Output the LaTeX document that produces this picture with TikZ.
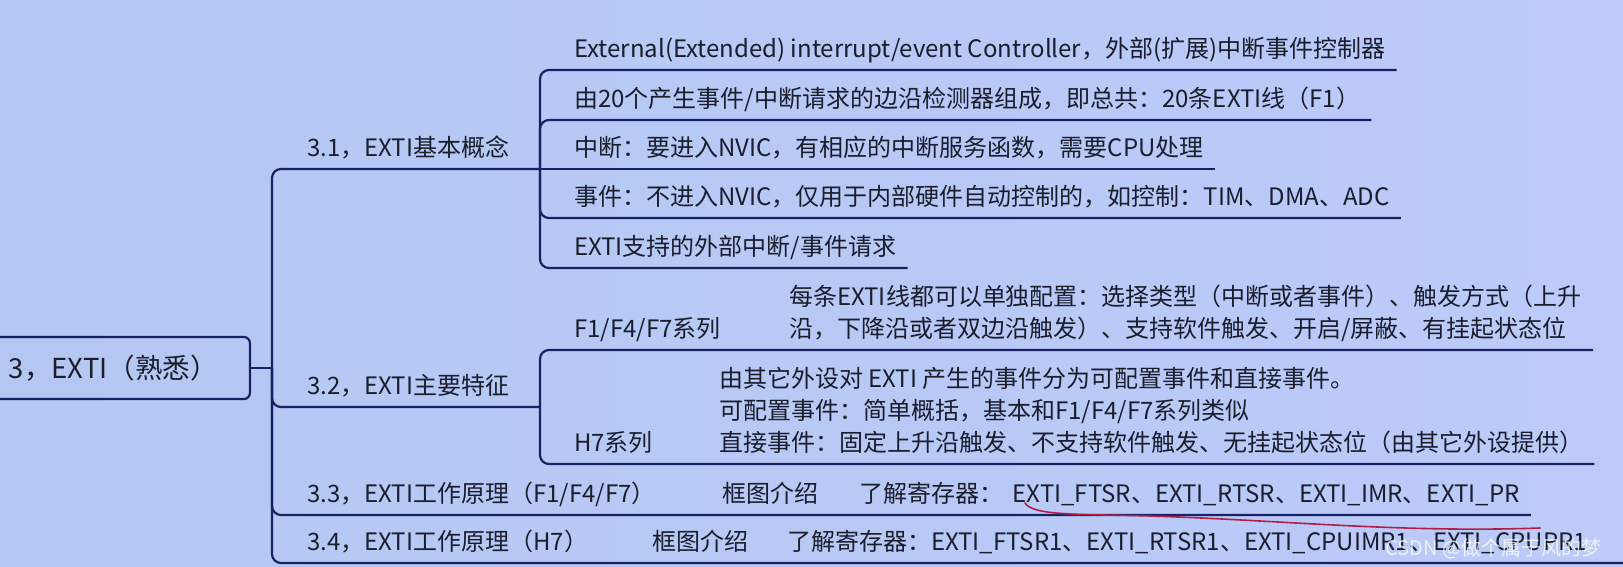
\documentclass[tikz,border=0pt]{standalone}
\usepackage{fontspec}
\setmainfont{Noto Sans CJK SC}
\usetikzlibrary{positioning}
\definecolor{bgleft}{RGB}{180,199,242}
\definecolor{bgmid}{RGB}{212,228,252}
\definecolor{bgright}{RGB}{188,203,250}
\definecolor{branchblue}{RGB}{22,34,100}
\definecolor{textgrey}{RGB}{26,29,44}
\definecolor{penred}{RGB}{176,30,72}
\tikzset{
  branch/.style={draw=branchblue, line width=2.2pt, rounded corners=9pt},
  topic/.style={anchor=south west, inner xsep=11pt, inner ysep=3pt, text=textgrey,
    font=\fontsize{24}{32}\selectfont, align=left, execute at end node=\strut},
  rootbox/.style={draw=branchblue, line width=2.2pt, rounded corners=6pt, anchor=east,
    text width=221pt, inner xsep=20pt, minimum height=62pt, text=textgrey,
    font=\fontsize{27.5}{30}\selectfont},
}
\begin{document}
\begin{tikzpicture}[x=1pt, y=-1pt]
\shade[left color=bgleft, middle color=bgmid, right color=bgright] (0,0) rectangle (1623,567);
\useasboundingbox (0,0) rectangle (1623,567);
% root
\node[rootbox] (root) at (251,368) {3，EXTI（熟悉）};
\coordinate (trunk) at (272,368);
\draw[branch] (root.east) -- (trunk);

% 3.1
\node[topic] (n31) at (296,169) {3.1，EXTI基本概念};
\coordinate (f31) at (540,169);
\draw[branch] (trunk) |- (f31);
\node[topic] (c311) at (563,70) {External(Extended) interrupt/event Controller，外部(扩展)中断事件控制器};
\node[topic] (c312) at (563,120) {由20个产生事件/中断请求的边沿检测器组成，即总共：20条EXTI线（F1）};
\node[topic] (c313) at (563,169) {中断：要进入NVIC，有相应的中断服务函数，需要CPU处理};
\node[topic] (c314) at (563,218) {事件：不进入NVIC，仅用于内部硬件自动控制的，如控制：TIM、DMA、ADC};
\node[topic] (c315) at (563,268) {EXTI支持的外部中断/事件请求};
\foreach \c in {c311,c312,c314,c315}
  \draw[branch] (f31) |- (\c.south east);
\draw[branch] (f31) -- (c313.south east);

% 3.2
\node[topic] (n32) at (296,407) {3.2，EXTI主要特征};
\coordinate (f32) at (540,407);
\draw[branch] (trunk) |- (f32);
\node[topic] (nf1) at (563,350) {F1/F4/F7系列};
\node[topic] (nf1p) at (778,350) {每条EXTI线都可以单独配置：选择类型（中断或者事件）、触发方式（上升\\沿，下降沿或者双边沿触发）、支持软件触发、开启/屏蔽、有挂起状态位};
\node[topic] (nh7) at (563,464) {H7系列};
\node[topic] (nh7p) at (708,464) {由其它外设对 EXTI 产生的事件分为可配置事件和直接事件。\\可配置事件：简单概括，基本和F1/F4/F7系列类似\\直接事件：固定上升沿触发、不支持软件触发、无挂起状态位（由其它外设提供）};
\draw[branch] (f32) |- (nf1p.south east);
\draw[branch] (f32) |- (nh7p.south east);

% 3.3
\node[topic] (n33) at (296,515) {3.3，EXTI工作原理（F1/F4/F7）};
\node[topic] (n33b) at (711,515) {框图介绍};
\node[topic] (n33c) at (848,515) {了解寄存器：\hspace{0.4em}EXTI\_FTSR、EXTI\_RTSR、EXTI\_IMR、EXTI\_PR};
\draw[branch] (trunk) |- (n33c.south east);

% 3.4
\node[topic] (n34) at (296,563) {3.4，EXTI工作原理（H7）};
\node[topic] (n34b) at (641,563) {框图介绍};
\node[topic] (n34c) at (776,563) {了解寄存器：EXTI\_FTSR1、EXTI\_RTSR1、EXTI\_CPUIMR1、EXTI\_CPUPR1};
\coordinate (end34) at (1630,563);
\draw[branch] (trunk) |- (end34);

% pen mark
\draw[penred, line width=1.6pt, line cap=round] (1025,503) .. controls (1033,516) and (1080,514) .. (1150,516) .. controls (1280,520) and (1400,533) .. (1540,528);
\node[anchor=base west, text=white, opacity=0.75, font=\fontsize{20}{24}\selectfont] (mark) at (1382,555) {CSDN @做个属于风的梦};
\end{tikzpicture}
\end{document}
